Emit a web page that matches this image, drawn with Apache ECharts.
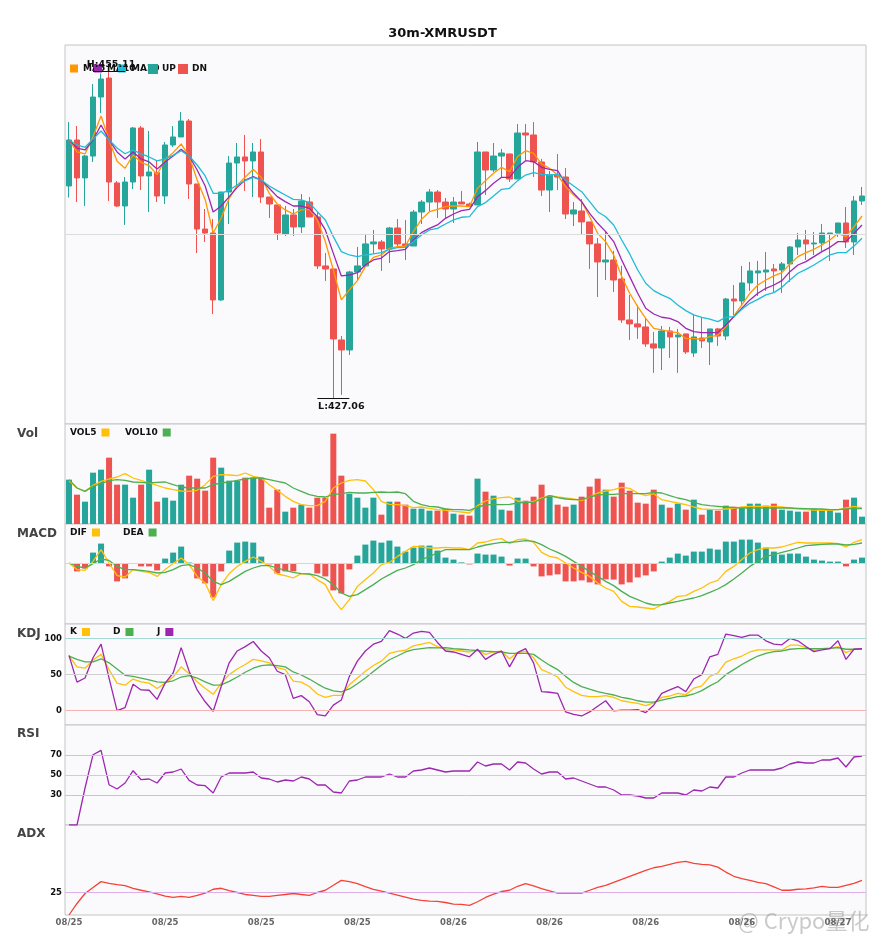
<!DOCTYPE html>
<html><head><meta charset="utf-8">
<script src="https://cdn.jsdelivr.net/npm/echarts/dist/echarts.min.js"></script>
<style>html,body{margin:0;padding:0;background:#fff}#c{width:885px;height:950px}</style>
</head><body><div id="c"></div>
<script>
// ---------- data ----------
const open = [
445.28,449.23,445.97,447.85,452.92,454.55,445.54,443.56,445.62,450.26,
446.14,446.42,444.42,448.80,449.49,450.86,445.45,441.58,441.24,435.49,
444.76,447.25,447.77,447.43,448.20,444.33,443.65,441.16,442.79,441.76,
443.90,442.62,438.41,438.15,432.05,431.19,437.89,438.41,440.30,440.47,
439.87,441.67,440.30,440.12,443.04,443.90,444.76,443.90,443.30,443.90,
443.73,443.65,448.20,446.65,447.85,448.03,445.88,449.83,449.66,447.34,
444.93,446.22,446.05,442.87,443.13,442.19,440.30,438.75,438.92,437.29,
433.77,433.43,433.17,431.71,431.36,432.82,432.31,432.57,430.93,432.22,
431.88,433.00,432.39,435.57,435.40,436.95,437.81,437.89,438.15,438.06,
438.58,440.04,440.64,440.30,440.38,441.16,441.24,442.10,440.47,443.99];
const close = [
449.23,445.97,447.85,452.92,454.47,445.62,443.56,445.62,450.26,446.14,
446.48,444.42,448.80,449.49,450.86,445.45,441.58,441.24,435.49,444.76,
447.25,447.77,447.43,448.20,444.33,443.73,441.24,442.79,441.76,443.99,
442.62,438.41,438.15,432.14,431.19,437.89,438.41,440.30,440.47,439.87,
441.67,440.30,440.12,443.04,443.90,444.76,443.90,443.30,443.90,443.73,
443.56,448.20,446.65,447.85,448.11,445.88,449.83,449.66,447.34,444.93,
446.22,446.05,442.87,443.22,442.19,440.30,438.75,438.92,437.20,433.77,
433.43,433.17,431.71,431.36,432.82,432.31,432.48,431.02,432.31,431.97,
433.00,432.39,435.57,435.40,436.95,437.98,437.98,438.06,437.98,438.58,
440.04,440.64,440.30,440.38,441.24,441.24,442.10,440.47,443.99,444.42];
const low = [
444.28,443.90,443.56,447.34,451.55,443.99,443.47,441.93,445.02,444.93,
443.04,443.90,443.73,448.63,449.49,444.16,439.52,440.47,434.28,435.40,
442.01,445.36,444.85,444.33,443.82,442.53,440.64,440.98,440.98,441.24,
442.62,438.15,437.12,427.06,427.33,430.76,437.12,438.41,439.44,437.98,
438.66,440.12,438.92,440.12,442.01,443.04,442.53,442.53,442.10,443.73,
443.50,443.65,444.50,446.48,445.97,445.62,445.88,447.51,446.05,444.42,
443.04,444.93,442.44,441.84,441.07,438.15,435.74,437.20,436.17,433.51,
432.05,432.14,431.45,429.22,429.47,430.50,429.22,430.85,430.59,431.36,
429.90,431.54,432.05,434.20,435.06,436.26,435.83,436.26,436.17,436.09,
437.03,439.35,438.92,439.35,439.70,438.84,440.90,439.95,439.35,443.65];
const high = [
450.77,450.43,447.94,454.04,454.95,455.11,445.70,446.05,450.35,450.43,
450.00,447.51,449.06,450.43,451.63,451.03,445.45,443.30,442.44,444.76,
447.85,448.97,449.66,448.97,449.31,444.33,443.65,443.56,443.30,444.59,
444.33,443.04,439.52,438.15,432.39,437.98,440.04,441.16,441.50,440.64,
441.76,442.44,442.36,443.22,444.08,445.02,444.93,444.25,444.33,444.85,
443.85,449.06,448.20,448.97,448.46,448.03,450.60,450.60,450.77,447.60,
446.57,448.03,446.82,443.90,444.16,442.19,440.81,441.33,439.70,438.41,
435.92,435.06,433.94,432.74,433.25,433.17,433.00,432.57,434.28,434.03,
433.00,433.08,435.66,436.77,438.41,438.75,438.84,439.61,438.58,438.75,
440.12,441.24,441.50,441.33,442.01,441.24,442.10,443.47,444.42,445.19];
const ma5 = [
449.23,448.20,448.03,449.52,451.29,449.23,447.40,446.80,447.94,447.31,
447.02,446.25,447.57,448.14,448.89,447.83,445.79,444.10,441.24,442.53,
444.22,445.34,446.05,446.71,446.02,444.65,443.73,443.22,442.87,443.22,
443.27,442.36,440.50,438.06,435.49,436.35,437.15,438.35,439.15,439.35,
439.92,440.07,440.12,441.36,442.41,443.07,443.27,443.50,443.56,443.56,
443.50,445.08,445.74,446.37,446.88,446.51,447.80,448.31,448.08,447.17,
446.80,446.22,445.22,444.50,443.93,442.64,441.21,440.50,439.35,437.49,
436.06,434.91,433.91,433.05,432.91,432.77,432.68,432.17,432.17,432.11,
432.34,432.45,433.20,434.11,435.06,436.06,436.77,437.20,437.55,437.83,
438.58,439.21,439.55,439.84,440.21,440.64,441.21,440.93,441.79,442.70];
const ma10 = [
449.23,448.54,448.37,449.23,450.52,449.23,448.20,447.60,448.20,447.60,
447.34,446.74,447.34,447.85,448.43,447.85,446.65,445.28,443.04,443.56,
444.36,445.16,445.79,446.08,445.79,445.08,444.36,443.93,443.56,443.56,
443.36,442.64,441.50,439.49,437.55,437.63,437.83,438.49,438.92,439.09,
439.64,439.72,439.84,440.64,441.27,441.64,441.93,442.50,442.87,443.16,
443.27,444.36,444.88,445.51,446.02,446.02,446.88,447.45,447.37,446.88,
446.71,446.60,445.51,444.65,443.93,442.93,442.07,441.36,440.50,438.92,
437.49,436.06,434.77,434.28,434.00,433.91,433.63,433.05,432.77,432.68,
432.68,432.68,433.34,434.05,434.77,435.49,436.06,436.49,436.77,437.15,
437.92,438.49,438.78,439.21,439.64,440.01,440.50,440.50,441.21,441.93];
const ma20 = [
449.23,448.80,448.60,449.31,450.00,449.23,448.54,448.05,448.37,448.03,
447.77,447.43,447.60,447.91,448.31,447.85,447.08,446.14,444.65,444.65,
444.93,445.36,445.74,446.02,445.79,445.28,444.88,444.50,444.13,444.08,
443.85,443.07,442.36,440.93,439.64,439.35,439.21,439.35,439.44,439.55,
439.84,439.98,440.01,440.50,441.07,441.50,441.64,442.01,442.36,442.59,
442.64,443.50,443.85,444.42,444.99,445.08,445.74,446.22,446.42,446.28,
446.22,446.28,445.79,445.28,444.79,443.93,443.07,442.64,441.93,440.64,
439.44,438.06,436.92,436.29,435.92,435.63,435.06,434.57,434.20,434.00,
433.83,433.63,434.00,434.05,434.68,435.20,435.54,435.92,436.12,436.57,
437.20,437.78,438.12,438.49,438.92,439.35,439.55,439.55,440.12,440.78];
const volume = [
1330,880,670,1540,1630,1990,1180,1180,790,1180,
1630,670,790,700,1180,1450,1360,1000,1990,1690,
1300,1300,1390,1390,1390,490,1030,370,490,580,
490,790,790,2710,1450,910,790,490,790,280,
670,670,580,460,460,400,400,460,310,280,
250,1360,970,850,430,400,790,700,820,1180,
850,580,520,580,820,1120,1360,1030,820,1240,
1000,640,610,1030,580,490,610,430,730,280,
430,400,550,520,490,610,610,550,610,430,
400,370,370,460,430,400,340,730,790,220];
const vol5 = [
1300,1080,980,1160,1280,1350,1410,1510,1380,1310,
1230,1160,1080,1030,990,980,1010,1180,1430,1480,
1470,1450,1530,1430,1380,1180,1010,830,680,580,
550,550,680,1080,1230,1310,1330,1290,1030,680,
590,580,550,490,510,470,430,410,380,360,
330,550,690,760,790,810,690,650,680,780,
850,810,780,750,700,810,930,990,1030,1100,
1070,930,850,910,730,680,630,580,510,450,
440,430,450,470,510,530,530,530,530,510,
480,450,430,420,410,410,430,480,530,480];
const vol10 = [
1330,1080,980,1130,1210,1300,1330,1310,1260,1250,
1230,1250,1260,1180,1110,1080,1080,1080,1180,1230,
1260,1310,1350,1380,1380,1330,1280,1230,1080,980,
880,830,810,880,910,950,930,930,950,960,
950,960,910,680,580,530,510,450,430,430,
410,510,570,590,580,590,630,650,650,750,
850,790,750,730,730,810,870,890,890,910,
910,910,910,950,930,850,780,730,650,580,
550,530,510,490,480,480,480,480,480,480,
480,470,460,450,450,430,430,450,470,460];
const macdHist = [
0.00,-0.42,-0.27,0.52,0.97,-0.17,-0.92,-0.77,-0.03,-0.17,
-0.17,-0.37,0.22,0.52,0.82,0.02,-0.77,-1.02,-1.72,-0.42,
0.62,1.02,1.07,1.02,0.32,-0.07,-0.52,-0.42,-0.42,-0.03,
-0.03,-0.52,-0.67,-1.37,-1.52,-0.32,0.37,0.92,1.12,1.02,
1.12,0.82,0.57,0.77,0.87,0.87,0.62,0.27,0.17,0.03,
-0.07,0.47,0.42,0.42,0.32,-0.13,0.22,0.22,-0.17,-0.67,
-0.62,-0.57,-0.92,-0.92,-0.87,-0.97,-1.07,-0.82,-0.83,-1.07,
-0.97,-0.72,-0.62,-0.42,0.07,0.27,0.47,0.37,0.57,0.57,
0.72,0.67,1.07,1.07,1.17,1.17,1.02,0.77,0.57,0.42,
0.47,0.47,0.32,0.17,0.12,0.07,0.07,-0.17,0.17,0.27];
const dif = [
0.00,-0.33,-0.37,0.08,0.67,0.00,-0.63,-0.70,-0.33,-0.42,
-0.47,-0.67,-0.33,-0.03,0.25,-0.08,-0.67,-1.00,-1.88,-1.08,
-0.53,-0.17,0.08,0.30,0.08,-0.17,-0.55,-0.63,-0.75,-0.53,
-0.55,-0.83,-1.08,-1.83,-2.33,-1.83,-1.17,-0.83,-0.50,-0.08,
0.03,0.33,0.58,0.83,0.80,0.75,0.75,0.78,0.75,0.75,
0.67,1.00,1.05,1.17,1.22,0.97,1.17,1.20,1.03,0.53,
0.33,0.25,0.00,-0.25,-0.47,-0.67,-1.00,-1.25,-1.42,-1.92,
-2.17,-2.20,-2.25,-2.30,-2.08,-1.92,-1.67,-1.63,-1.42,-1.25,
-1.00,-0.87,-0.42,-0.17,0.17,0.50,0.67,0.75,0.75,0.80,
0.92,1.03,1.00,1.00,1.00,1.00,0.97,0.80,1.03,1.17];
const dea = [
0.00,-0.17,-0.25,-0.03,0.20,0.13,-0.17,-0.33,-0.33,-0.37,
-0.42,-0.50,-0.47,-0.33,-0.13,-0.08,-0.25,-0.50,-0.92,-1.08,
-0.92,-0.67,-0.42,-0.25,-0.13,-0.13,-0.25,-0.37,-0.47,-0.53,
-0.55,-0.63,-0.80,-1.08,-1.50,-1.67,-1.58,-1.33,-1.08,-0.80,
-0.58,-0.37,-0.25,-0.08,0.17,0.33,0.50,0.67,0.67,0.67,
0.67,0.80,0.90,0.97,1.03,1.03,1.07,1.12,1.08,0.92,
0.70,0.53,0.33,0.08,-0.17,-0.42,-0.67,-0.92,-1.13,-1.42,
-1.67,-1.83,-2.00,-2.10,-2.08,-2.00,-1.92,-1.83,-1.75,-1.63,
-1.47,-1.30,-1.08,-0.80,-0.50,-0.17,0.08,0.33,0.42,0.53,
0.63,0.75,0.87,0.90,0.93,0.95,0.95,0.90,0.93,1.00];
const kLine = [
75.6,60.6,58.7,70.0,77.9,56.8,38.0,35.2,43.7,39.9,
38.0,30.5,38.0,46.5,60.6,51.2,39.9,31.0,22.5,38.0,
49.8,57.7,63.8,70.9,69.0,66.2,59.6,56.8,40.8,39.4,
33.3,23.0,18.3,21.1,21.1,35.7,45.1,54.5,62.4,68.5,
79.3,82.2,83.6,89.7,92.0,94.4,88.7,85.0,84.0,82.6,
81.2,84.0,77.9,81.2,82.2,71.8,80.3,82.2,73.2,56.8,
52.1,46.5,32.4,26.3,21.1,19.2,19.2,20.7,18.3,13.6,
11.7,9.9,7.0,10.8,18.3,20.2,23.9,22.1,31.0,34.3,
47.4,52.1,67.1,71.8,75.6,81.2,84.0,84.0,84.0,84.0,
90.6,90.6,87.3,83.6,85.9,85.9,88.7,80.3,85.0,85.9];
const dLine = [
75.6,70.9,67.6,67.6,71.8,66.2,57.7,48.8,47.4,45.1,
42.7,39.9,39.0,41.3,46.5,48.4,45.1,39.9,35.2,35.7,
40.4,46.5,53.1,58.7,62.4,63.4,62.4,60.6,53.5,49.3,
43.7,37.1,31.0,27.2,25.8,30.0,37.1,45.1,54.0,62.9,
70.4,75.6,81.2,84.5,85.9,87.3,86.9,87.3,85.9,85.0,
84.0,83.1,82.2,81.7,81.2,79.3,79.3,79.3,77.9,70.0,
62.9,56.8,47.4,39.0,33.3,29.6,26.3,23.9,21.6,18.3,
16.4,13.6,11.7,11.7,14.6,16.9,19.2,20.2,23.0,27.7,
34.3,39.9,49.8,56.8,63.8,70.0,75.6,79.3,81.7,82.6,
85.0,85.9,85.9,85.9,85.9,86.4,87.3,85.0,85.0,85.0];
const jLine = [
76.5,39.4,45.1,73.2,92.0,45.1,0.0,4.2,36.6,28.6,
28.2,15.5,38.0,52.1,87.3,54.5,28.6,12.2,-0.9,33.3,
66.2,82.6,88.7,95.8,82.6,73.2,54.5,49.8,16.9,20.7,
12.2,-5.6,-7.5,7.5,14.6,47.4,68.5,82.6,92.0,95.8,
110.8,106.1,100.0,107.5,109.9,108.5,94.4,82.6,81.2,77.9,
74.6,85.0,70.9,77.9,82.6,60.6,80.3,85.9,66.2,26.3,
25.4,23.9,-1.9,-5.2,-7.5,-1.9,6.1,13.6,-0.5,0.5,
0.5,1.4,-2.8,7.5,23.9,28.6,33.3,26.3,43.7,49.8,
74.6,77.9,106.1,103.8,101.4,104.7,104.7,96.7,92.0,91.1,
100.0,96.7,88.7,81.7,84.0,85.9,96.7,70.9,85.0,85.9];
const rsi = [
0,0,37,70.3,74.6,40.3,36,42,54.3,45.3,
46,42,52,53,56,44.6,40,39.3,32,48,
52,52,52,53,47,46,43,45,44,48,
46,40,40,33,32,44,45,48,48,48,
51,48,48,54,55,57,55,53,54,54,
54,63,59,61,61,55,63,62,56,51,
53,53,46,47,44,41,38,38,35,30,
30,29,27,27,32,32,32,30,35,34,
38,37,48,48,52,55,55,55,55,57,
61,63,62,62,65,65,67,58,68,69];
const adx = [
0,12.8,23.9,30.5,37.1,35.2,33.8,32.7,29.7,27.5,
25.7,23.5,20.9,19.5,20.6,19.5,21.7,24.2,28.6,29.7,
27.2,25.0,22.8,21.7,20.6,20.6,21.7,22.8,23.9,22.8,
21.7,25.0,27.5,33.0,38.5,37.1,34.9,31.6,28.6,26.4,
24.2,22.0,19.8,17.6,16.2,15.4,15.1,13.9,12.1,11.7,
10.6,14.7,19.5,23.1,26.1,27.5,31.9,34.9,32.3,29.4,
26.8,24.2,24.2,24.2,24.2,27.5,30.8,33.0,36.3,39.6,
43.0,46.3,49.6,52.5,54.0,56.2,58.4,59.5,57.3,56.2,
55.8,53.2,47.7,43.0,40.4,38.5,36.3,34.9,31.2,27.5,
27.5,28.6,29.0,30.1,31.9,30.8,30.8,33.0,35.2,38.5];
const kdjLevels = [100, 50, 0];
const rsiLevels = [70, 50, 30];
const adxLevels = [25];
const startDay = 25, barMinutes = 30;
const categories = [];
for (let i = 0; i < open.length; i++) {
  const m = i * barMinutes;
  const d = startDay + Math.floor(m / 1440);
  const hh = Math.floor((m % 1440) / 60), mm = m % 60;
  categories.push('08/' + d + ' ' + String(hh).padStart(2,'0') + ':' + String(mm).padStart(2,'0'));
}

// ---------- build ----------
const UPC = '#26a69a', DNC = '#ef5350';
const FONT = 'DejaVu Sans';
const upData = [], dnData = [];
for (let i = 0; i < open.length; i++) {
  const c = [open[i], close[i], low[i], high[i]];
  if (close[i] >= open[i]) { upData.push(c); dnData.push('-'); }
  else { dnData.push(c); upData.push('-'); }
}
let hiIdx = 0, loIdx = 0;
high.forEach((v,i)=>{ if (v > high[hiIdx]) hiIdx = i; });
low.forEach((v,i)=>{ if (v < low[loIdx]) loIdx = i; });
const pMin = 424.83, pMax = 457.39;

const grids = [
  {top:45, height:379}, {top:424, height:100}, {top:524, height:100},
  {top:624, height:101}, {top:725, height:100}, {top:825, height:90}
].map(g => Object.assign({left:65, right:19, show:true, borderColor:'#c4c4c4', borderWidth:1,
  backgroundColor:'#fafafc', outerBoundsMode:'none', containLabel:false}, g));

const xAxes = grids.map((g, i) => ({
  type:'category', gridIndex:i, data:categories, boundaryGap:true,
  axisLine:{show:false}, axisTick:{show:false}, splitLine:{show:false},
  axisLabel: i === 5 ? {show:true, interval:11, formatter:v => v.slice(0,5), color:'#666',
    fontWeight:'bold', fontSize:8.5, fontFamily:FONT, margin:3} : {show:false}
}));
const yBase = {axisLine:{show:false}, axisTick:{show:false}, axisLabel:{show:false}, splitLine:{show:false}};
const yAxes = [
  Object.assign({gridIndex:0, min:pMin, max:pMax, scale:true}, yBase),
  Object.assign({gridIndex:1, min:0, max:3000}, yBase),
  Object.assign({gridIndex:2, min:-3.05, max:1.95}, yBase),
  Object.assign({gridIndex:3, min:-20, max:120}, yBase),
  Object.assign({gridIndex:4, min:0, max:100}, yBase),
  Object.assign({gridIndex:5, min:0, max:100}, yBase)
];

const lineS = (name, data, color, idx, extra) => Object.assign({
  name, type:'line', data, xAxisIndex:idx, yAxisIndex:idx, symbol:'none', silent:true,
  lineStyle:{color, width:1.3}, itemStyle:{color}, emphasis:{disabled:true}, z:3
}, extra || {});
const levelColor = {100:'#a6d9d3', 70:'#a6d9d3', 50:'#cfcfcf', 0:'#f5b3b3', 30:'#f5b3b3', 25:'#deb0ea'};
const levelLines = (levels) => ({
  silent:true, symbol:['none','none'], animation:false,
  label:{show:true, position:'start', distance:3, color:'#111', fontWeight:'bold', fontSize:8.5, fontFamily:FONT, formatter:'{c}'},
  data: levels.map(v => ({yAxis:v, lineStyle:{color:levelColor[v], type:'solid', width:1}}))
});
const candleBase = {type:'candlestick', xAxisIndex:0, yAxisIndex:0, barWidth:6, silent:true, emphasis:{disabled:true}};
const hlLabel = {show:true, color:'#111', fontWeight:'bold', fontSize:9.5, fontFamily:FONT, formatter:'{b}'};

const series = [
  Object.assign({name:'UP', data:upData,
    itemStyle:{color:UPC, color0:UPC, borderColor:UPC, borderColor0:UPC, borderWidth:1},
    markLine:{silent:true, symbol:['none','none'], animation:false, label:{show:false},
      data:[
        {yAxis:(pMin+pMax)/2, lineStyle:{color:'#dcdcdc', type:'solid', width:1}},
        [{coord:[categories[hiIdx-2], high[hiIdx]], lineStyle:{color:'#111', type:'solid', width:1}},
         {coord:[categories[hiIdx+2], high[hiIdx]]}],
        [{coord:[categories[loIdx-2], low[loIdx]], lineStyle:{color:'#111', type:'solid', width:1}},
         {coord:[categories[loIdx+2], low[loIdx]]}]
      ]},
    markPoint:{silent:true, animation:false, symbol:'circle', symbolSize:1, itemStyle:{color:'rgba(0,0,0,0)'},
      data:[
        {name:'H:' + high[hiIdx].toFixed(2), coord:[categories[hiIdx], high[hiIdx]],
          label:Object.assign({position:'top', distance:2, offset:[2,0]}, hlLabel)},
        {name:'L:' + low[loIdx].toFixed(2), coord:[categories[loIdx], low[loIdx]],
          label:Object.assign({position:'bottom', distance:3, offset:[8,0]}, hlLabel)}
      ]}
  }, candleBase),
  Object.assign({name:'DN', data:dnData,
    itemStyle:{color:DNC, color0:DNC, borderColor:DNC, borderColor0:DNC, borderWidth:1}}, candleBase),
  lineS('MA5', ma5, '#ff9800', 0),
  lineS('MA10', ma10, '#9c27b0', 0),
  lineS('MA20', ma20, '#1fbcd6', 0),
  {name:'Volume', type:'bar', xAxisIndex:1, yAxisIndex:1, barWidth:6, silent:true,
    data: volume.map((v,i) => ({value:v, itemStyle:{color: close[i] >= open[i] ? UPC : DNC}}))},
  lineS('VOL5', vol5, '#ffc107', 1),
  lineS('VOL10', vol10, '#4caf50', 1),
  {name:'MACD', type:'bar', xAxisIndex:2, yAxisIndex:2, barWidth:6, silent:true,
    data: macdHist.map(v => ({value:v, itemStyle:{color: v >= 0 ? UPC : DNC}})),
    markLine:{silent:true, symbol:['none','none'], animation:false, label:{show:false},
      data:[{yAxis:0, lineStyle:{color:'#d6d6d6', type:'solid', width:1}}]}},
  lineS('DIF', dif, '#ffc107', 2),
  lineS('DEA', dea, '#4caf50', 2),
  lineS('K', kLine, '#ffc107', 3, {markLine: levelLines(kdjLevels)}),
  lineS('D', dLine, '#4caf50', 3),
  lineS('J', jLine, '#9c27b0', 3),
  lineS('RSI', rsi, '#9c27b0', 4, {markLine: levelLines(rsiLevels)}),
  lineS('ADX', adx, '#f44336', 5, {markLine: levelLines(adxLevels)})
];

const lg = (name, left, top, align, width) => ({
  data:[name], left, top, padding:0, orient:'horizontal', align, selectedMode:false,
  icon:'rect', itemWidth:8, itemHeight:8, itemGap:0,
  textStyle: Object.assign({color:'#111', fontWeight:'bold', fontSize:9, fontFamily:FONT}, width ? {width} : {})
});
const legends = [
  lg('MA5', 70, 64, 'left'), lg('MA10', 94, 64, 'left'), lg('MA20', 118, 64, 'left'),
  lg('UP', 148, 64, 'left'), lg('DN', 178, 64, 'left'),
  lg('VOL5', 70, 428, 'right'), lg('VOL10', 125, 428, 'right'),
  lg('DIF', 70, 528, 'right', 22), lg('DEA', 123, 528, 'right', 25),
  lg('K', 70, 627.5, 'right', 12), lg('D', 113, 627.5, 'right', 13), lg('J', 157, 627.5, 'right', 13)
];

const panelTitles = [['Vol',428],['MACD',528],['KDJ',628],['RSI',728],['ADX',828]];
const graphic = panelTitles.map(([t, y]) => ({type:'text', left:17, top:y, silent:true,
  style:{text:t, font:'bold 12px "DejaVu Sans"', fill:'#444'}}));
graphic.push({type:'text', left:738, top:910, silent:true,
  style:{text:'@ Crypo量化', font:'22px "Noto Sans CJK SC"', fill:'rgba(150,150,150,0.5)'}});

const option = {
  animation:false,
  backgroundColor:'#ffffff',
  textStyle:{fontFamily:FONT},
  title:{text:'30m-XMRUSDT', left:'center', top:27, padding:0,
    textStyle:{fontSize:13, fontWeight:'bold', color:'#111', fontFamily:FONT}},
  legend: legends,
  grid: grids, xAxis: xAxes, yAxis: yAxes, series, graphic
};
const chart = echarts.init(document.getElementById('c'), null, {renderer:'canvas'});
chart.setOption(option);
</script>
</body></html>
